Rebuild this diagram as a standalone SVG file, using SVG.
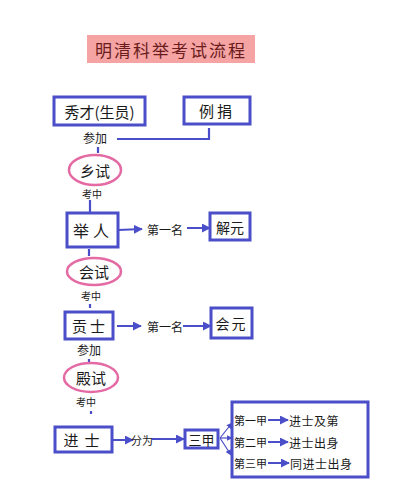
<svg xmlns="http://www.w3.org/2000/svg" width="400" height="486" viewBox="0 0 400 486">
<defs>
<marker id="ah" viewBox="0 0 10 10" refX="9" refY="5" markerWidth="9" markerHeight="9" markerUnits="userSpaceOnUse" orient="auto">
<path d="M0,0 L10,5 L0,10 z" fill="#4a4ec8"/>
</marker>
<marker id="ahs" viewBox="0 0 10 10" refX="9" refY="5" markerWidth="6" markerHeight="6" markerUnits="userSpaceOnUse" orient="auto">
<path d="M0,0 L10,5 L0,10 z" fill="#4a4ec8"/>
</marker>
</defs>
<style>
.box{fill:none;stroke:#4a4ec8;stroke-width:3}
.ell{fill:none;stroke:#e46aa4;stroke-width:2.5}
.ln{fill:none;stroke:#4a4ec8;stroke-width:2.2}
.ar{fill:none;stroke:#4a4ec8;stroke-width:2;marker-end:url(#ah)}
.ars{fill:none;stroke:#4a4ec8;stroke-width:1.2;marker-end:url(#ahs)}
text{font-family:"Noto Sans CJK SC","Noto Sans",sans-serif;fill:#1a1a1a;text-anchor:middle;dominant-baseline:central}
.t{font-size:15px}
.s{font-size:10px}
.c{font-size:12px}
.m{font-size:12px}
.l{text-anchor:start}
</style>
<rect width="400" height="486" fill="#ffffff"/>
<g id="title">
<rect x="87" y="35" width="168" height="28" fill="#f6a3a3"/>
<text x="171" y="49" style="font-size:17px;letter-spacing:2px;fill:#6a1c1c">明清科举考试流程</text>
</g>
<g id="connectors">
<path class="ln" d="M209,128 V139 H117"/>
<path class="ln" d="M98,147 V153"/>
<path class="ln" d="M90,200 V213"/>
<path class="ar" d="M118,230 L142,229"/>
<path class="ar" d="M187,228 L210,228"/>
<path class="ln" d="M89,249 V256"/>
<path class="ln" d="M90,304 V308"/>
<path class="ar" d="M117,326 L141,326"/>
<path class="ar" d="M183,326 L211,326"/>
<path class="ln" d="M89,359 V362"/>
<path class="ln" d="M91,411 V414"/>
<path class="ar" d="M113,440 L133,440"/>
<path class="ar" d="M152,439 L184,439"/>
<path class="ars" d="M220,438 L232,423"/>
<path class="ars" d="M220,438 L232,438"/>
<path class="ars" d="M220,438 L231,455"/>
<path class="ar" d="M268,420 L288,420"/>
<path class="ar" d="M268,442 L288,442"/>
<path class="ar" d="M268,463 L289,463"/>
</g>
<g id="xiucai">
<rect class="box" x="54" y="97" width="91" height="28"/>
<text class="t" x="99.5" y="111">秀才(生员)</text>
</g>
<g id="lijuan">
<rect class="box" x="184" y="97" width="66" height="27"/>
<text class="t" x="217" y="110.5" style="letter-spacing:3px">例捐</text>
</g>
<g id="label-canjia1"><text class="c" x="95" y="137">参加</text></g>
<g id="xiangshi">
<ellipse class="ell" cx="95" cy="170" rx="26" ry="15"/>
<text class="t" x="95" y="170">乡试</text>
</g>
<g id="label-kaozhong1"><text class="s" x="92" y="193">考中</text></g>
<g id="juren">
<rect class="box" x="67" y="213" width="51" height="34"/>
<text class="t" x="93" y="230" style="font-size:16px;letter-spacing:4px">举人</text>
</g>
<g id="label-diyiming1"><text class="m" x="165" y="229">第一名</text></g>
<g id="jieyuan">
<rect class="box" x="210" y="213" width="40" height="27"/>
<text class="t" x="230" y="226.5" style="font-size:14px">解元</text>
</g>
<g id="huishi">
<ellipse class="ell" cx="94" cy="271.5" rx="27" ry="13.5"/>
<text class="t" x="94" y="271.5">会试</text>
</g>
<g id="label-kaozhong2"><text class="s" x="91" y="295">考中</text></g>
<g id="gongshi">
<rect class="box" x="65" y="312" width="48" height="27"/>
<text class="t" x="90" y="325.5" style="letter-spacing:3px">贡士</text>
</g>
<g id="label-diyiming2"><text class="m" x="165" y="326">第一名</text></g>
<g id="huiyuan">
<rect class="box" x="211" y="308" width="41" height="30"/>
<text class="t" x="231.5" y="323" style="font-size:14px;letter-spacing:2px">会元</text>
</g>
<g id="label-canjia2"><text class="c" x="89" y="349">参加</text></g>
<g id="dianshi">
<ellipse class="ell" cx="91" cy="377.5" rx="27" ry="14.5"/>
<text class="t" x="91" y="377.5">殿试</text>
</g>
<g id="label-kaozhong3"><text class="s" x="86" y="401">考中</text></g>
<g id="jinshi">
<rect class="box" x="55" y="427" width="57" height="25"/>
<text class="t" x="84.5" y="439.5" style="letter-spacing:6px">进士</text>
</g>
<g id="label-fenwei"><text class="s" x="142" y="440" style="font-size:11px">分为</text></g>
<g id="sanjia">
<rect class="box" x="185" y="430" width="33" height="18"/>
<text class="m" x="201.5" y="439" style="font-size:13px">三甲</text>
</g>
<g id="jia-group">
<rect class="box" x="232" y="402" width="136" height="75"/>
<text class="l" x="234" y="420" style="font-size:11px">第一甲</text>
<text class="m l" x="289" y="420" style="letter-spacing:0.5px">进士及第</text>
<text class="l" x="234" y="442" style="font-size:11px">第二甲</text>
<text class="m l" x="289" y="442" style="letter-spacing:0.5px">进士出身</text>
<text class="l" x="234" y="463" style="font-size:11px">第三甲</text>
<text class="m l" x="290" y="463" style="letter-spacing:0.5px">同进士出身</text>
</g>
</svg>
